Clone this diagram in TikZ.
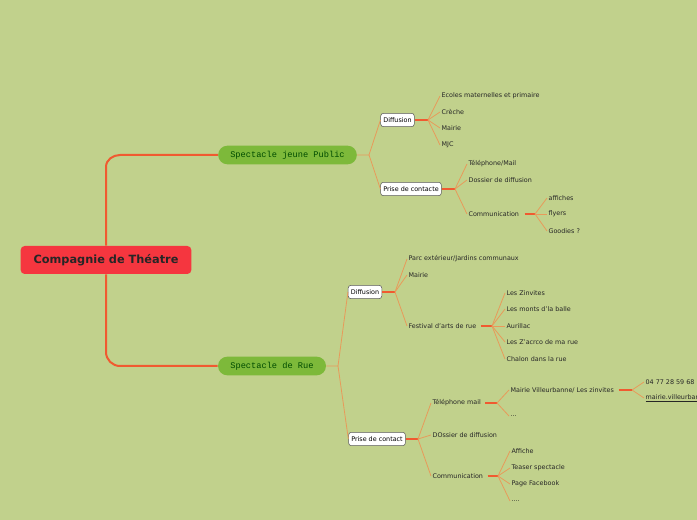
\documentclass[tikz,border=0pt]{standalone}
\usepackage{fontspec}
\setmainfont{DejaVu Sans}
\setmonofont{Liberation Mono}
\begin{document}
\begin{tikzpicture}[x=0.75pt,y=-0.75pt,
  leaf/.style={anchor=west,inner sep=1pt,font=\fontsize{4.8}{6}\selectfont,text=black!85},
  sub/.style={draw=gray!70!black,fill=white,rounded corners=2pt,inner sep=2pt,font=\fontsize{4.8}{6}\selectfont,minimum height=10pt},
  pill/.style={rounded corners=7pt,minimum height=14pt,font=\ttfamily\fontsize{6.5}{8}\selectfont,text=black!70!green,inner xsep=8pt},
  fan/.style={draw=fanc,line width=0.6pt},
  red/.style={draw=redc,line width=1.2pt}]
\definecolor{bg}{HTML}{C1D18C}
\definecolor{pillc}{HTML}{7DB93A}
\definecolor{fanc}{HTML}{E89A5A}
\definecolor{redc}{HTML}{F05A30}
\definecolor{rootc}{HTML}{F5363F}
\fill[bg] (0,0) rectangle (697,520);
\useasboundingbox (0,0) rectangle (697,520);
\node[fill=rootc,rounded corners=3pt,minimum width=128pt,minimum height=21pt,font=\bfseries\fontsize{8.5}{10}\selectfont,text=black!85] (root) at (106,260) {Compagnie de Théatre};
\node[pill,fill=pillc,minimum width=104pt] (sjp) at (287.5,155) {Spectacle jeune Public};
\node[pill,fill=pillc,minimum width=81pt] (sr) at (272,366) {Spectacle de Rue};
\draw[redc,line width=1.5pt] (root.north) -- (106,167) to[out=90,in=180] (120,155) -- (sjp.west);
\draw[redc,line width=1.5pt] (root.south) -- (106,352) to[out=-90,in=180] (120,366) -- (sr.west);
% jeune public
\node[sub] (d1) at (397.5,120) {Diffusion};
\node[sub] (p1) at (411,189) {Prise de contacte};
\coordinate (j1) at (369,155);
\draw[fan] (sjp.east) -- (j1) -- (d1.west) (j1) -- (p1.west);
\coordinate (jd1) at (428,120);
\draw[red] (d1.east) -- (jd1);
\foreach \t/\y [count=\i] in {Ecoles maternelles et primaire/96,Crèche/112,Mairie/128,MJC/145}
  {\node[leaf] (a\i) at (440,\y) {\t}; \draw[fan] (jd1) -- (a\i.west);}
\coordinate (jp1) at (455,189);
\draw[red] (p1.east) -- (jp1);
\node[leaf] (b1) at (467,164) {Téléphone/Mail};
\node[leaf] (b2) at (467,180) {Dossier de diffusion};
\node[leaf] (b3) at (467,214) {Communication};
\foreach \i in {1,2,3} \draw[fan] (jp1) -- (b\i.west);
\coordinate (jc1) at (535,214);
\draw[red] (b3.east)++(4,0) -- (jc1);
\foreach \t/\y [count=\i] in {affiches/198,flyers/214,Goodies ?/231}
  {\node[leaf] (c\i) at (547,\y) {\t}; \draw[fan] (jc1) -- (c\i.west);}
% rue
\node[sub] (d2) at (365,292) {Diffusion};
\node[sub] (p2) at (377,439) {Prise de contact};
\coordinate (j2) at (338,366);
\draw[fan] (sr.east) -- (j2) -- (d2.west) (j2) -- (p2.west);
\coordinate (jd2) at (395,292);
\draw[red] (d2.east) -- (jd2);
\node[leaf] (e1) at (407,259) {Parc extérieur/Jardins communaux};
\node[leaf] (e2) at (407,275) {Mairie};
\node[leaf] (e3) at (407,326) {Festival d'arts de rue};
\foreach \i in {1,2,3} \draw[fan] (jd2) -- (e\i.west);
\coordinate (jf) at (492,326);
\draw[red] (e3.east)++(3,0) -- (jf);
\foreach \t/\y [count=\i] in {Les Zinvites/293,Les monts d'la balle/309,Aurillac/326,Les Z'acrco de ma rue/342,Chalon dans la rue/359}
  {\node[leaf] (f\i) at (505,\y) {\t}; \draw[fan] (jf) -- (f\i.west);}
\coordinate (jp2) at (418,439);
\draw[red] (p2.east) -- (jp2);
\node[leaf] (g1) at (431,403) {Téléphone mail};
\node[leaf] (g2) at (431,435) {DOssier de diffusion};
\node[leaf] (g3) at (431,476) {Communication};
\foreach \i in {1,2,3} \draw[fan] (jp2) -- (g\i.west);
\coordinate (jt) at (497,403);
\draw[red] (g1.east)++(3,0) -- (jt);
\node[leaf] (h1) at (509,390) {Mairie Villeurbanne/ Les zinvites};
\node[leaf] (h2) at (509,416) {...};
\foreach \i in {1,2} \draw[fan] (jt) -- (h\i.west);
\coordinate (jm) at (632,390);
\draw[red] (h1.east)++(3,0) -- (jm);
\node[leaf] (k1) at (644,382) {04 77 28 59 68};
\node[leaf] (k2) at (644,398) {\underline{mairie.villeurbanne}};
\foreach \i in {1,2} \draw[fan] (jm) -- (k\i.west);
\coordinate (jco) at (498,476);
\draw[red] (g3.east)++(3,0) -- (jco);
\node[leaf] (m1) at (510,451) {Affiche};
\node[leaf] (m2) at (510,468) {Teaser spectacle};
\node[leaf] (m3) at (510,484) {Page Facebook};
\node[leaf] (m4) at (510,501) {....};
\foreach \i in {1,2,3,4} \draw[fan] (jco) -- (m\i.west);
\end{tikzpicture}
\end{document}
